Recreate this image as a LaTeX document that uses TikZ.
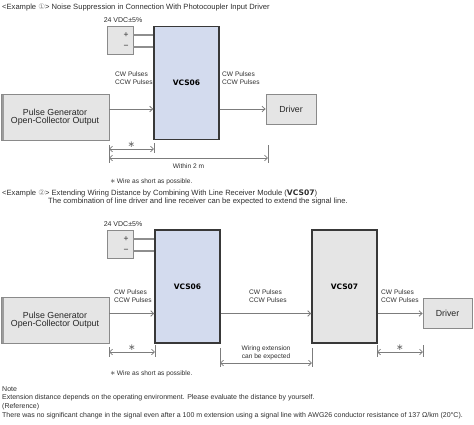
\documentclass[tikz,border=0pt]{standalone}
\usepackage{fontspec}
\setmainfont{Liberation Sans}
\newfontfamily\circfont{DejaVu Sans}
\newfontfamily\modfont{DejaVu Sans}
\usetikzlibrary{arrows.meta}
\usetikzlibrary{positioning}

\definecolor{vcsblue}{HTML}{D3DBEE}
\definecolor{boxfill}{HTML}{E5E5E5}
\definecolor{boxline}{HTML}{8A8A8A}
\definecolor{unitline}{HTML}{383838}
\definecolor{arrowgray}{HTML}{7C7C7C}
\definecolor{wiregray}{HTML}{8E8E8E}
\definecolor{stripgray}{HTML}{9C9C9C}
\definecolor{txt}{HTML}{2E2E2E}

\begin{document}
\begin{tikzpicture}[x=1pt,y=-1pt,
  every node/.style={inner sep=0pt,text=txt},
  unit/.style={draw=unitline,line width=1.4pt,minimum width=65pt,minimum height=113pt,
    font=\modfont\bfseries\fontsize{7.5}{9}\selectfont,text=black},
  blockbox/.style={draw=boxline,line width=0.8pt,fill=boxfill,align=center,
    font=\fontsize{8.8}{8.2}\selectfont,text=black!85},
  pulsegen/.style={blockbox,minimum width=108pt,minimum height=46pt,
    path picture={\fill[stripgray] (path picture bounding box.north west) rectangle ([xshift=3pt]path picture bounding box.south west);}},
  psu/.style={draw=boxline,line width=0.8pt,fill=boxfill,minimum width=26pt,minimum height=28pt},
  sign/.style={font=\fontsize{8.5}{9}\selectfont,text=black!80},
  lbl/.style={font=\fontsize{6.6}{7.3}\selectfont,align=left,anchor=north west},
  sig/.style={draw=arrowgray,line width=0.8pt,-{Straight Barb[length=3pt,width=5.5pt]}},
  pwr/.style={draw=wiregray,line width=1.3pt},
  dim/.style={draw=arrowgray,line width=0.7pt,{Straight Barb[length=3pt,width=5.5pt]}-{Straight Barb[length=3pt,width=5.5pt]}},
  dimtick/.style={draw=arrowgray,line width=0.7pt},
  star/.style={font=\circfont\fontsize{9}{9}\selectfont,text=black!60},
  small/.style={font=\fontsize{6.6}{7.3}\selectfont,align=center},
  head/.style={font=\fontsize{7.6}{8}\selectfont,anchor=west},
  txtline/.style={font=\fontsize{7}{8}\selectfont,anchor=west}
]
\useasboundingbox (0,0) rectangle (474,424);

\node[head] (head1) at (2,7) {<Example {\circfont\color{black!45}①}> Noise Suppression in Connection With Photocoupler Input Driver};

\node[psu] (psu1) at (120,40.5) {};
\node[above=3pt of psu1,xshift=3pt,font=\fontsize{7}{8}\selectfont] (vdc1) {24 VDC±5\%};
\node[sign] (plus1) at (126,35) {+};
\node[sign] (minus1) at (126,47) {−};
\node[unit,fill=vcsblue] (vcs1) at (186.5,83) {VCS06};
\draw[pwr] (psu1.east |- plus1) -- (vcs1.west |- plus1);
\draw[pwr] (psu1.east |- minus1) -- (vcs1.west |- minus1);

\node[pulsegen] (gen1) at (55,117) {Pulse Generator\\Open-Collector Output};
\node[blockbox,minimum width=50pt,minimum height=30pt] (drv1) at (291,109) {Driver};
\draw[sig] (gen1.east |- drv1) -- (vcs1.west |- drv1);
\draw[sig] (vcs1.east |- drv1) -- (drv1.west);
\node[lbl] (in1) at (115,72) {CW Pulses\\CCW Pulses};
\node[lbl] (out1) at (222,72) {CW Pulses\\CCW Pulses};

\coordinate (a1) at (109,149);
\coordinate (b1) at (154,149);
\coordinate (a2) at (109,158);
\coordinate (b2) at (268,158);
\draw[dimtick] (109,145) -- (109,163);
\draw[dimtick] (154,143) -- (154,153);
\draw[dimtick] (268,145) -- (268,163);
\draw[dim] (a1) -- node[above=1.5pt,star] (st1) {∗} (b1);
\draw[dim] (a2) -- node[below=5pt,small] (within1) {Within 2 m} (b2);
\node[small,anchor=west] (foot1) at (110,182) {{\circfont\color{black!60}∗}\,Wire as short as possible.};

\node[head] (head2) at (2,193) {<Example {\circfont\color{black!45}②}> Extending Wiring Distance by Combining With Line Receiver Module ({\modfont\bfseries VCS07})};
\node[head] (sub2) at (48,202) {The combination of line driver and line receiver can be expected to extend the signal line.};

\node[psu] (psu2) at (120,244) {};
\node[above=3pt of psu2,xshift=3pt,font=\fontsize{7}{8}\selectfont] (vdc2) {24 VDC±5\%};
\node[sign] (plus2) at (126,239) {+};
\node[sign] (minus2) at (126,251) {−};
\node[unit,fill=vcsblue] (vcs2) at (187.5,286.5) {VCS06};
\node[unit,fill=boxfill] (vcs7) at (344.5,286.5) {VCS07};
\draw[pwr] (psu2.east |- plus2) -- (vcs2.west |- plus2);
\draw[pwr] (psu2.east |- minus2) -- (vcs2.west |- minus2);

\node[pulsegen] (gen2) at (55,320) {Pulse Generator\\Open-Collector Output};
\node[blockbox,minimum width=49pt,minimum height=30pt] (drv2) at (447.5,313.5) {Driver};
\draw[sig] (gen2.east |- drv2) -- (vcs2.west |- drv2);
\draw[sig] (vcs2.east |- drv2) -- (vcs7.west |- drv2);
\draw[sig] (vcs7.east |- drv2) -- (drv2.west);
\node[lbl] (in2) at (114,290) {CW Pulses\\CCW Pulses};
\node[lbl] (mid2) at (249,290) {CW Pulses\\CCW Pulses};
\node[lbl] (out2) at (381,290) {CW Pulses\\CCW Pulses};

\coordinate (a3) at (109,352);
\coordinate (b3) at (155,352);
\coordinate (a4) at (220,363);
\coordinate (b4) at (312,363);
\coordinate (a5) at (377,352);
\coordinate (b5) at (423,352);
\draw[dimtick] (109,347) -- (109,357);
\draw[dimtick] (155,345) -- (155,357);
\draw[dimtick] (220,348) -- (220,367);
\draw[dimtick] (312,348) -- (312,367);
\draw[dimtick] (377,345) -- (377,357);
\draw[dimtick] (423,345) -- (423,357);
\draw[dim] (a3) -- node[above=1.5pt,star] (st3) {∗} (b3);
\draw[dim] (a4) -- node[above=3pt,small] (ext2) {Wiring extension\\can be expected} (b4);
\draw[dim] (a5) -- node[above=1.5pt,star] (st5) {∗} (b5);
\node[small,anchor=west] (foot2) at (110,374) {{\circfont\color{black!60}∗}\,Wire as short as possible.};

\node[txtline] (note1) at (2,389) {Note};
\node[txtline] (note2) at (2,398) {Extension distance depends on the operating environment. Please evaluate the distance by yourself.};
\node[txtline] (note3) at (2,406.5) {(Reference)};
\node[txtline] (note4) at (2,415.5) {There was no significant change in the signal even after a 100 m extension using a signal line with AWG26 conductor resistance of 137 Ω/km (20°C).};
\end{tikzpicture}
\end{document}
